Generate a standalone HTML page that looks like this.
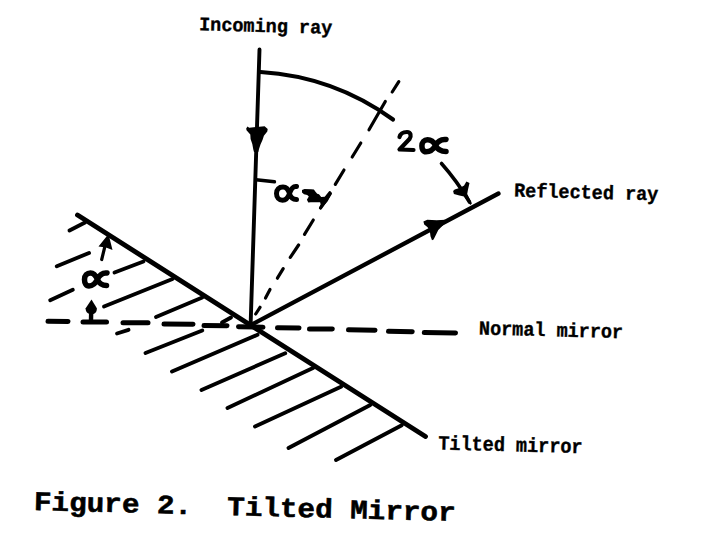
<!DOCTYPE html>
<html><head><meta charset="utf-8">
<style>
html,body{margin:0;padding:0;background:#fff;width:704px;height:556px;overflow:hidden}
svg{display:block}
.t{font-family:"Liberation Mono",monospace;font-weight:bold;fill:#000;stroke:#000;stroke-width:0.35px}
</style></head><body>
<svg width="704" height="556" viewBox="0 0 704 556">
<rect width="704" height="556" fill="#fff"/>
<g stroke="#000" fill="none" stroke-linecap="round" stroke-linejoin="round">
<!-- incoming ray -->
<path d="M259.5 49.5 L250.6 325" stroke-width="3.9"/>
<!-- tilted mirror -->
<path d="M77.5 215 L425.5 436.5" stroke-width="4.9"/>
<!-- reflected ray -->
<path d="M251 325 L498.5 193.5" stroke-width="4.3"/>
<!-- arc 2alpha -->
<path d="M260.5 72 A252 252 0 0 1 393 119.5" stroke-width="4.2"/>
<!-- 2alpha arrow along arc -->
<path d="M441.5 163.5 A252 252 0 0 1 469.5 202" stroke-width="3.6"/>
<!-- tick near small alpha -->
<path d="M256 179.8 L274.5 181.8" stroke-width="3.4"/>
<!-- diagonal dashed normal -->
<g stroke-width="3.2">
<path d="M398.8 81.7 L392.2 92"/>
<path d="M385.3 101.5 L369 129.8"/>
<path d="M360.8 143 L352.2 157"/>
<path d="M344 170 L335.3 184.4"/>
<path d="M330.3 193.5 L320.5 208"/>
<path d="M313.3 220 L304.5 234.3"/>
<path d="M298.6 245 L290.3 257.4"/>
<path d="M283.2 268.7 L277.4 278.2"/>
<path d="M270 289.5 L265.5 298"/>
<path d="M260 307.3 L255.7 314"/>
</g>
<!-- normal mirror dashed -->
<g stroke-width="5">
<path d="M48 321.3 L68 321.5"/>
<path d="M83 322 L106.5 322"/>
<path d="M123 322.8 L148 322.8"/>
<path d="M164 324 L193 324.2"/>
<path d="M204 325.5 L227 325.8"/>
<path d="M238.5 326.8 L263 327.2"/>
<path d="M277.5 327.8 L299 328"/>
<path d="M309.5 328.9 L332.3 329.1"/>
<path d="M348.5 329.8 L375 330.3"/>
<path d="M388.5 331.3 L412.2 331.8"/>
<path d="M424.3 332.5 L455.5 332.9"/>
</g>
<!-- hatch lines -->
<g stroke-width="3.9">
<path d="M69.5 230.5 L85 222.5"/>
<path d="M56.8 266.2 L89 253"/>
<path d="M50.2 300.2 L72.8 289.8"/>
<path d="M114.5 272.5 L143.5 261.5"/>
<path d="M104 306.5 L172.5 279"/>
<path d="M117 333.5 L128.5 329.8"/>
<path d="M156 317 L202.3 297.5"/>
<path d="M145.5 353 L202.3 330.5"/>
<path d="M222 322.5 L231 317.5"/>
<path d="M172 371.5 L257.5 334.8"/>
<path d="M201.5 390 L285.2 353.2"/>
<path d="M227.5 408 L313 368"/>
<path d="M255 426.5 L341 386.8"/>
<path d="M288.5 448 L370.3 405"/>
<path d="M336 460 L401.8 425.2"/>
</g>
<!-- left alpha arrows -->
<path d="M101.7 259.5 L105 246" stroke-width="3.2"/>
<path d="M91.3 306 L91 320" stroke-width="4.4"/>
</g>
<g fill="#000" stroke="none">
<!-- arrowhead incoming -->
<path d="M246.2 128.5 L247.5 126.5 L249.2 127.8 L264.6 126.2 L267.7 128.9 L267.3 131.6 L263.9 135.7 L262.6 139.8 L260.5 144.6 L259 149 L258.3 152 L254 152 L253.3 149.4 L252.3 143.9 L250.6 139.1 L250.3 134.4 L246.5 130.3 Z"/>
<!-- arrowhead reflected -->
<path d="M423.4 221.4 L427.3 219.8 L436.7 220.3 L445.3 219.8 L443 225.3 L438.3 230 L433.6 239.4 L432 240.2 L430.5 236.25 L429.7 230 L427.3 226.9 L424.2 224.5 Z"/>
<!-- 2alpha arrowhead -->
<path d="M453.1 190.9 L454.7 189.4 L460.2 187.8 L464.1 185.5 L466.4 181.6 L469.5 183.1 L468 189.4 L467.2 194.1 L469.5 198.75 L471.9 203.4 L470.3 205 L468 201.9 L464.1 196.4 L459.4 195.6 L453.9 194.1 Z"/>
<!-- small alpha arrowhead -->
<path d="M302 190 L304.5 188.9 L311.2 189.2 L313.9 189.5 L315.3 191.6 L317.2 193.8 L319 194.3 L321.2 197 L324.7 196.8 L329.3 191.1 L330.9 191.6 L331.7 193.5 L327.7 201.3 L320.7 209.4 L319 208.4 L320.7 204.6 L320.1 202.2 L311 202.2 L308.3 202.4 L306.9 199.7 L308.8 196.5 L307.2 195.1 L304 194.3 L302 192.4 Z"/>
<!-- left alpha arrowheads -->
<path d="M98.5 246.5 L108.5 234 L112.5 250 L106 247.5 Z"/>
<path d="M91.5 299.5 L97 308.5 Q96.5 313, 93.5 314 L89.5 314 Q86 313, 85.5 308.5 Z"/>
</g>
<!-- alpha glyphs -->
<g fill="none" stroke="#000" stroke-linecap="round" stroke-linejoin="round">
<path d="M296.5 186.5 C293.5 186, 291 189, 289.5 193.5 C288 198, 285.5 200.2, 282.5 200.2 C279 200.2, 276.5 197.5, 276.5 193.5 C276.5 189.5, 279 187, 283 187 C286.5 187, 288.5 190, 289.5 193.5 C290.5 197.5, 293 199.5, 296.5 199.5" stroke-width="5"/>
<path d="M399.5 137 C400.5 133, 404 132, 407 132 C411 132, 411.5 136, 409.5 139 L399.5 149.5 L413.5 150" stroke-width="4.2"/>
<path d="M446 139.5 C441 139, 437.5 141.5, 435.5 145.5 C433 150, 429 151.8, 426 151.8 C423 151.8, 421.9 149, 421.9 146 C421.9 142.5, 424 139.8, 427.5 139.8 C431.5 139.8, 434 142.5, 435.5 145.5 C437.5 149.5, 441 151.5, 446 151.5" stroke-width="5.5"/>
<path d="M107 273 C103 272.5, 99.5 275, 97.5 279 C95.5 283.5, 92 286, 89 286 C86 286, 84.5 283, 84.5 279.5 C84.5 275.5, 87 273, 90.5 273 C94 273, 96 276, 97.5 279.5 C99 283, 102 285.5, 106.5 285.5" stroke-width="5.5"/>
</g>
<!-- labels -->
<text class="t" font-size="18.5" transform="translate(199 30.3) rotate(1.5) scale(1 1.04)">Incoming ray</text>
<text class="t" font-size="18.5" transform="translate(514 196.6) rotate(1.5) scale(1 1.06)">Reflected ray</text>
<text class="t" font-size="18.5" transform="translate(478.8 334.4) rotate(1.5) scale(1 1.07)">Normal mirror</text>
<text class="t" font-size="18.5" transform="translate(438.2 449.4) rotate(1.5) scale(1 1.1)">Tilted mirror</text>
<text class="t" font-size="29.3" style="stroke-width:0.6px" transform="translate(33.8 510) rotate(1.5) scale(1 0.92)" xml:space="preserve">Figure 2.  Tilted Mirror</text>
</svg>
</body></html>
